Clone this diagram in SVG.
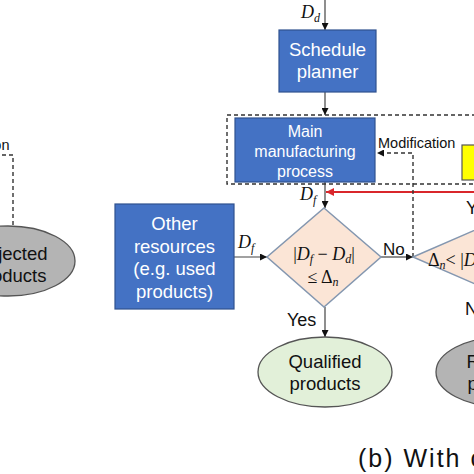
<svg xmlns="http://www.w3.org/2000/svg" width="474" height="474" viewBox="0 0 474 474">
<style>
.box{fill:#4472c4;stroke:#2f528f;stroke-width:1.2}
.wt{fill:#fff;font-family:"Liberation Sans",Arial,sans-serif;text-anchor:middle}
.bt{fill:#111;font-family:"Liberation Sans",Arial,sans-serif}
.dia{fill:#fbe5d6;stroke:#8497b0;stroke-width:1.5}
.math{font-family:"Liberation Serif","Times New Roman",serif;font-style:italic;fill:#111}
.ln{stroke:#444;stroke-width:1.2;fill:none}
.dash{stroke:#333;stroke-width:1.4;fill:none;stroke-dasharray:4 3}
.gray{fill:#b4b4b4;stroke:#555;stroke-width:1.3}
</style>
<defs>
<marker id="ah" viewBox="0 0 10 10" refX="10" refY="5" markerWidth="7" markerHeight="7" markerUnits="userSpaceOnUse" orient="auto"><path d="M0,0 L10,5 L0,10 z" fill="#111"/></marker>
<marker id="ahr" viewBox="0 0 10 10" refX="10" refY="5" markerWidth="8" markerHeight="8" markerUnits="userSpaceOnUse" orient="auto"><path d="M0,0 L10,5 L0,10 z" fill="#d9262b"/></marker>
</defs>
<rect width="474" height="474" fill="#fff"/>

<g id="connectors">
<line class="ln" x1="325" y1="0" x2="325" y2="30" marker-end="url(#ah)"/>
<line class="ln" x1="325" y1="92" x2="325" y2="115" marker-end="url(#ah)"/>
<line class="ln" x1="325" y1="182" x2="325" y2="208" marker-end="url(#ah)"/>
<line x1="474" y1="192" x2="326" y2="192" stroke="#d9262b" stroke-width="1.8" marker-end="url(#ahr)"/>
<line class="ln" x1="234" y1="257" x2="267" y2="257" marker-end="url(#ah)"/>
<line class="ln" x1="381" y1="257" x2="413" y2="257" marker-end="url(#ah)"/>
<line class="ln" x1="325" y1="307" x2="325" y2="337" marker-end="url(#ah)"/>
<path class="dash" d="M413,257 V153 H377" marker-end="url(#ah)"/>
<path class="dash" d="M-5,155 H13 V227"/>
</g>

<rect id="subsystem" class="dash" x="227" y="115" width="260" height="69"/>

<g id="schedule">
<rect class="box" x="279" y="30" width="97" height="62"/>
<text class="wt" x="327.5" y="56" font-size="18.5">Schedule</text>
<text class="wt" x="327.5" y="78" font-size="18.5">planner</text>
</g>

<g id="main">
<rect class="box" x="235" y="118" width="140" height="64"/>
<text class="wt" x="305" y="137" font-size="16">Main</text>
<text class="wt" x="305" y="157" font-size="16">manufacturing</text>
<text class="wt" x="305" y="177" font-size="16">process</text>
</g>

<g id="yellow">
<rect x="462" y="145" width="30" height="35" fill="#ffff00" stroke="#555" stroke-width="1.2"/>
</g>

<g id="other">
<rect class="box" x="115" y="204" width="119" height="105"/>
<text class="wt" x="174.5" y="230" font-size="18.5">Other</text>
<text class="wt" x="174.5" y="253" font-size="18.5">resources</text>
<text class="wt" x="174.5" y="275" font-size="18.5">(e.g. used</text>
<text class="wt" x="174.5" y="298" font-size="18.5">products)</text>
</g>

<g id="decision1">
<polygon class="dia" points="324,208 381,257 324,307 267,257"/>
<text class="math" x="324" y="260" font-size="18" text-anchor="middle"><tspan font-style="normal">|</tspan>D<tspan font-size="12" dy="3">f</tspan><tspan dy="-3" font-style="normal"> − </tspan>D<tspan font-size="12" dy="3">d</tspan><tspan dy="-3" font-style="normal">|</tspan></text>
<text class="math" x="323" y="283" font-size="18" text-anchor="middle"><tspan font-style="normal">≤ Δ</tspan><tspan font-size="12" dy="3">n</tspan></text>
</g>

<g id="decision2">
<polygon class="dia" points="413,257 528,207 643,257 528,307"/>
<text class="math" x="428" y="266" font-size="18"><tspan font-style="normal">Δ</tspan><tspan font-size="12" dy="3">n</tspan><tspan dy="-3" font-style="normal">&lt; |</tspan>D</text>
</g>

<g id="qualified">
<ellipse cx="325" cy="372" rx="67" ry="35" fill="#e2f0d9" stroke="#555" stroke-width="1.3"/>
<text class="bt" x="325" y="368" font-size="18.5" text-anchor="middle">Qualified</text>
<text class="bt" x="325" y="390" font-size="18.5" text-anchor="middle">products</text>
</g>

<g id="rejected-right">
<ellipse class="gray" cx="503" cy="372" rx="67" ry="35"/>
<text class="bt" x="503" y="368" font-size="18.5" text-anchor="middle">Rejected</text>
<text class="bt" x="503" y="390" font-size="18.5" text-anchor="middle">products</text>
</g>

<g id="rejected-left">
<ellipse class="gray" cx="8" cy="261" rx="67" ry="35"/>
<text class="bt" x="11" y="260" font-size="18.5" text-anchor="middle">Rejected</text>
<text class="bt" x="11" y="282" font-size="18.5" text-anchor="middle">products</text>
</g>

<g id="labels">
<text class="math" x="301" y="18" font-size="18">D<tspan font-size="12" dy="4">d</tspan></text>
<text class="math" x="300" y="200" font-size="18">D<tspan font-size="12" dy="4">f</tspan></text>
<text class="math" x="238" y="248" font-size="18">D<tspan font-size="12" dy="4">f</tspan></text>
<text class="bt" x="378" y="148" font-size="14.5">Modification</text>
<text class="bt" x="9.5" y="150" font-size="14.5" text-anchor="end">Modification</text>
<text class="bt" x="383" y="255" font-size="17">No</text>
<text class="bt" x="287" y="326" font-size="18">Yes</text>
<text class="bt" x="466" y="214" font-size="18">Yes</text>
<text class="bt" x="465" y="315" font-size="18">No</text>
<text class="bt" x="358" y="467" font-size="25" letter-spacing="2">(b) With constraint</text>
</g>
</svg>
